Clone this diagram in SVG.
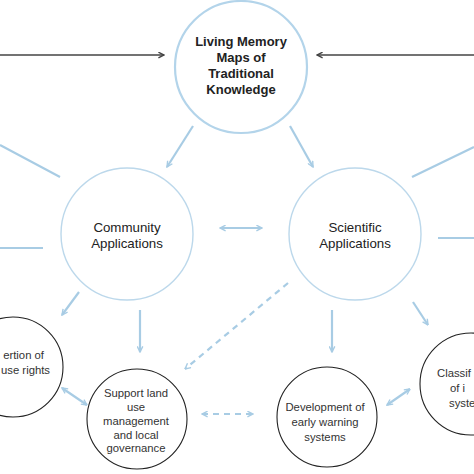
<svg xmlns="http://www.w3.org/2000/svg" width="474" height="474" viewBox="0 0 474 474">
<defs>
<marker id="ab" viewBox="0 0 10 10" refX="9" refY="5" markerWidth="7" markerHeight="7" markerUnits="userSpaceOnUse" orient="auto-start-reverse">
<polyline points="1,1 9,5 1,9" fill="none" stroke="#a8cce4" stroke-width="2"/>
</marker>
<marker id="ad" viewBox="0 0 10 10" refX="9" refY="5" markerWidth="7" markerHeight="7" markerUnits="userSpaceOnUse" orient="auto-start-reverse">
<polyline points="1,1 9,5 1,9" fill="none" stroke="#444" stroke-width="2"/>
</marker>
</defs>
<style>
.bl{fill:none;stroke:#a8cce4;stroke-width:2.2}
.bd{fill:none;stroke:#a8cce4;stroke-width:2.2;stroke-dasharray:6 5}
.dk{fill:none;stroke:#444;stroke-width:1.3}
.c1{fill:#fff;stroke:#b3d4ea;stroke-width:2.2}
.c2{fill:#fff;stroke:#bcd8eb;stroke-width:1.4}
.c3{fill:#fff;stroke:#222;stroke-width:1.1}
.t1{font-family:"Liberation Sans",Arial,sans-serif;font-weight:bold;font-size:13px;fill:#222;text-anchor:middle}
.t2{font-family:"Liberation Sans",Arial,sans-serif;font-size:13.3px;fill:#222;text-anchor:middle}
.t3{font-family:"Liberation Sans",Arial,sans-serif;font-size:11.3px;fill:#333;text-anchor:middle}
</style>
<rect width="474" height="474" fill="#fff"/>
<g id="connectors">
<line class="dk" x1="0" y1="55" x2="164" y2="55" marker-end="url(#ad)"/>
<line class="dk" x1="474" y1="55" x2="317" y2="55" marker-end="url(#ad)"/>
<line class="bl" x1="0" y1="145" x2="60" y2="177"/>
<line class="bl" x1="474" y1="147" x2="412" y2="177"/>
<line class="bl" x1="0" y1="248" x2="43" y2="248"/>
<line class="bl" x1="438" y1="238" x2="474" y2="238"/>
<line class="bl" x1="193" y1="126" x2="167" y2="167" marker-end="url(#ab)"/>
<line class="bl" x1="290" y1="126" x2="313" y2="167" marker-end="url(#ab)"/>
<line class="bl" x1="220" y1="228" x2="262" y2="228" marker-start="url(#ab)" marker-end="url(#ab)"/>
<line class="bl" x1="79" y1="292" x2="62" y2="315" marker-end="url(#ab)"/>
<line class="bl" x1="140" y1="310" x2="140" y2="352" marker-end="url(#ab)"/>
<line class="bl" x1="332" y1="310" x2="332" y2="352" marker-end="url(#ab)"/>
<line class="bl" x1="413" y1="302" x2="428" y2="325" marker-end="url(#ab)"/>
<line class="bd" x1="288" y1="283" x2="185" y2="369" marker-end="url(#ab)"/>
<line class="bd" x1="202" y1="414" x2="253" y2="414" marker-start="url(#ab)" marker-end="url(#ab)"/>
<line class="bl" x1="62" y1="388" x2="87" y2="405" marker-start="url(#ab)" marker-end="url(#ab)"/>
<line class="bl" x1="387" y1="405" x2="410" y2="389" marker-start="url(#ab)" marker-end="url(#ab)"/>
</g>
<g id="living-memory">
<circle class="c1" cx="241" cy="67" r="66"/>
<text class="t1" x="241" y="46">Living Memory</text>
<text class="t1" x="241" y="62">Maps of</text>
<text class="t1" x="241" y="78">Traditional</text>
<text class="t1" x="241" y="94">Knowledge</text>
</g>
<g id="community">
<circle class="c2" cx="127" cy="234" r="66"/>
<text class="t2" x="127" y="232">Community</text>
<text class="t2" x="127" y="248">Applications</text>
</g>
<g id="scientific">
<circle class="c2" cx="355" cy="234" r="66"/>
<text class="t2" x="355" y="232">Scientific</text>
<text class="t2" x="355" y="248">Applications</text>
</g>
<g id="assertion">
<circle class="c3" cx="13" cy="367" r="50"/>
<text class="t3" x="44" y="359" text-anchor="end" style="text-anchor:end">ertion of</text>
<text class="t3" x="50" y="374" style="text-anchor:end">use rights</text>
</g>
<g id="support">
<circle class="c3" cx="137" cy="419" r="50"/>
<text class="t3" x="136" y="397">Support land</text>
<text class="t3" x="136" y="411">use</text>
<text class="t3" x="136" y="425">management</text>
<text class="t3" x="136" y="439">and local</text>
<text class="t3" x="136" y="452">governance</text>
</g>
<g id="development">
<circle class="c3" cx="327" cy="417" r="50"/>
<text class="t3" x="325" y="411">Development of</text>
<text class="t3" x="325" y="426">early warning</text>
<text class="t3" x="325" y="441">systems</text>
</g>
<g id="classification">
<circle class="c3" cx="471" cy="384" r="51"/>
<text class="t3" x="437" y="377" style="text-anchor:start">Classif</text>
<text class="t3" x="450" y="392" style="text-anchor:start">of i</text>
<text class="t3" x="449" y="407" style="text-anchor:start">syste</text>
</g>
</svg>
